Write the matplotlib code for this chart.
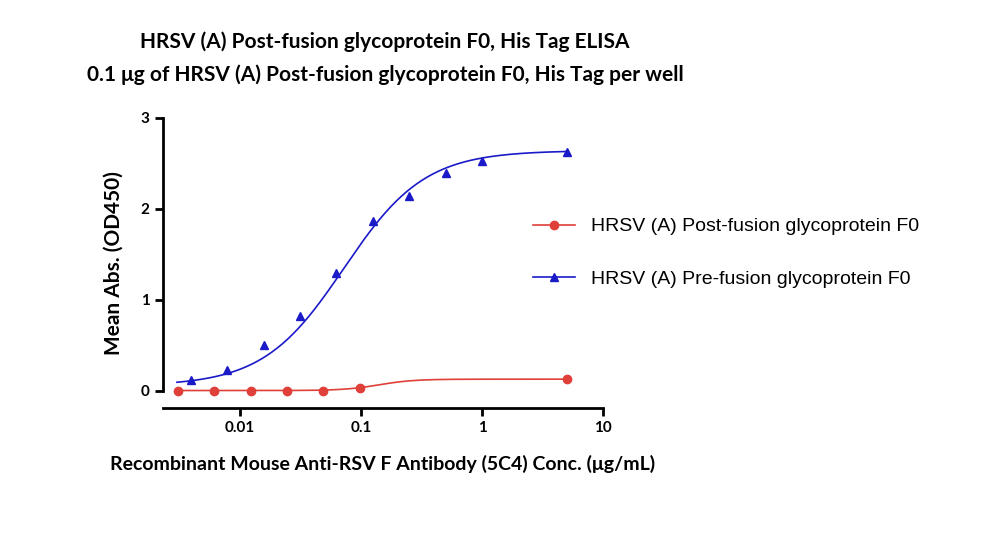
import numpy as np
import matplotlib.pyplot as plt

plt.rcParams['font.family'] = ['Lato', 'DejaVu Sans']

# measured points
pre_x = [0.0039, 0.0078, 0.0156, 0.03125, 0.0625, 0.125, 0.25, 0.5, 1, 5]
pre_y = [0.12, 0.23, 0.50, 0.82, 1.29, 1.86, 2.14, 2.39, 2.53, 2.62]
post_x = [0.00305, 0.0061, 0.0122, 0.0244, 0.0488, 0.0977, 5]
post_y = [0.0, 0.0, 0.0, 0.0, 0.0, 0.03, 0.13]

# 4PL fit parameters (bottom, top, ec50, hill)
pre_fit = (0.05, 2.64, 0.072, 1.3)
post_fit = (0.0, 0.125, 0.14, 3.0)


def fourpl(x, p):
    b, t, c, h = p
    return b + (t - b) / (1 + (c / x) ** h)


fig = plt.figure(figsize=(10, 5.38), dpi=100)
ax = fig.add_axes([0.163, 0.242, 0.44, 0.539])

xx = np.logspace(np.log10(0.0030), np.log10(5), 300)
ax.plot(xx, fourpl(xx, post_fit), color='#e0403a', lw=1.2)
ax.plot(xx, fourpl(xx, pre_fit), color='#1a1ac8', lw=1.2)
ax.plot(post_x, post_y, 'o', color='#e0403a', ms=6)
ax.plot(pre_x, pre_y, '^', color='#1a1ac8', ms=6)
# legend proxies (line + marker)
ax.plot([], [], 'o-', color='#e0403a', ms=6, lw=1.2, label='HRSV (A) Post-fusion glycoprotein F0')
ax.plot([], [], '^-', color='#1a1ac8', ms=6, lw=1.2, label='HRSV (A) Pre-fusion glycoprotein F0')

ax.set_xscale('log')
ax.set_xlim(0.0023, 10)
ax.set_ylim(-0.19, 3)
ax.set_xticks([0.01, 0.1, 1, 10])
ax.set_xticklabels(['0.01', '0.1', '1', '10'])
ax.set_yticks([0, 1, 2, 3])
ax.minorticks_off()
for s in ['top', 'right']:
    ax.spines[s].set_visible(False)
for s in ['left', 'bottom']:
    ax.spines[s].set_linewidth(2)
ax.spines['left'].set_bounds(0, 3)
ax.tick_params(width=2, length=6, labelsize=11)
for lab in ax.get_xticklabels() + ax.get_yticklabels():
    lab.set_fontweight('bold')

ax.set_xlabel('Recombinant Mouse Anti-RSV F Antibody (5C4) Conc. (\u03bcg/mL)',
              fontsize=14, fontweight='bold', labelpad=14, x=0.5)
ax.set_ylabel('Mean Abs. (OD450)', fontsize=15, fontweight='bold', labelpad=12)

fig.text(0.385, 0.91, 'HRSV (A) Post-fusion glycoprotein F0, His Tag ELISA',
         ha='center', fontsize=15, fontweight='bold')
fig.text(0.385, 0.85, '0.1 \u03bcg of HRSV (A) Post-fusion glycoprotein F0, His Tag per well',
         ha='center', fontsize=15, fontweight='bold')

fig.legend(loc='center left', bbox_to_anchor=(0.515, 0.53), frameon=False,
           labelspacing=1.8, handlelength=2.2,
           prop={'family': 'Liberation Sans', 'size': 14})

fig.savefig('out.png')
